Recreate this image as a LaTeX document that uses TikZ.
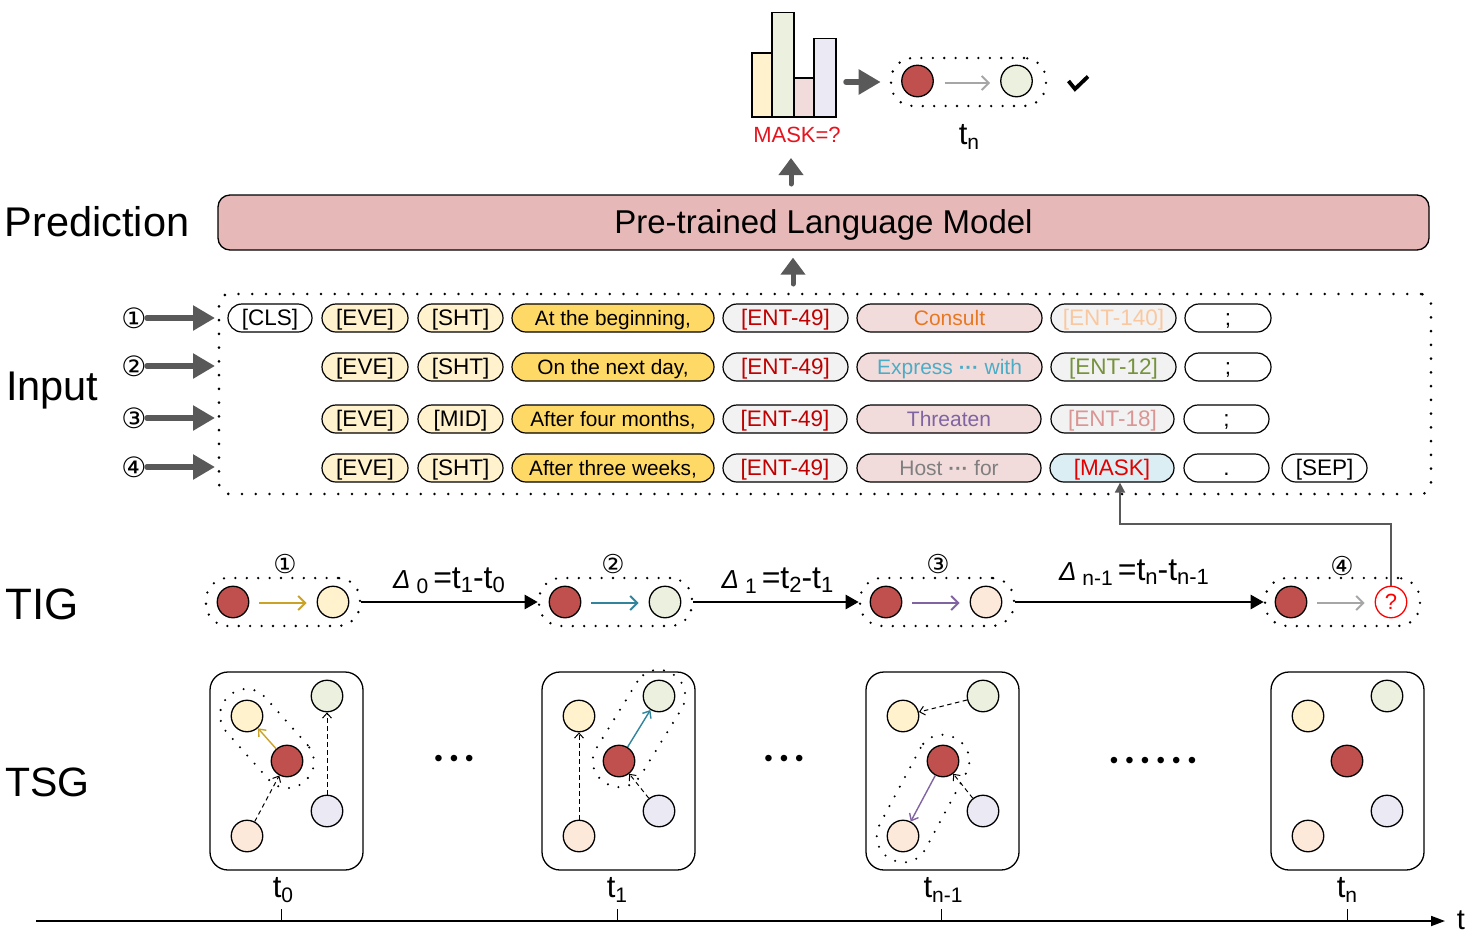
\documentclass[tikz,border=0pt]{standalone}
\usepackage{fontspec}
\setmainfont{Liberation Sans}
\newfontfamily\circfont{DejaVu Sans}
\usetikzlibrary{arrows.meta,calc}
\definecolor{cred}{HTML}{C0504D}
\definecolor{cyel}{HTML}{FFF2CC}
\definecolor{cgrn}{HTML}{EBF1DE}
\definecolor{cpea}{HTML}{FCE9DA}
\definecolor{clav}{HTML}{EBE9F3}
\definecolor{cpink}{HTML}{F2DCDB}
\definecolor{cmodel}{HTML}{E6B8B7}
\definecolor{cgold}{HTML}{FFD966}
\definecolor{cent}{HTML}{F2F2F2}
\definecolor{cblue}{HTML}{DAEEF3}
\definecolor{darrow}{HTML}{595959}
\definecolor{agold}{HTML}{C9A227}
\definecolor{ateal}{HTML}{31849B}
\definecolor{apur}{HTML}{8064A2}
\definecolor{agry}{HTML}{A6A6A6}
\definecolor{erd}{HTML}{C00000}
\definecolor{tcons}{HTML}{E87722}
\definecolor{texpr}{HTML}{4BACC6}
\definecolor{tprf}{HTML}{FAC8A0}
\definecolor{tgrn}{HTML}{76923C}
\definecolor{tsalm}{HTML}{D99694}
\definecolor{tgry}{HTML}{7F7F7F}
\definecolor{tmred}{HTML}{E6141E}
\newcommand\fs[1]{\fontsize{#1}{#1}\selectfont}
\newcommand\tsb[1]{{\fs{31}t}\raisebox{-5pt}{\fs{21}#1}}
\newcommand\dlt[2]{{\fs{26}\itshape Δ}\hspace{6pt}\raisebox{-5pt}{\fs{21}#1}\hspace{5pt}{\fs{32}=}#2}
\newcommand\tss[1]{{\fs{32}t}\raisebox{-4pt}{\fs{22}#1}}
\newcommand\dotsm{\textbf{\fs{20}···}}
% \pill{name}{left}{right}{y}{fill}{text colour}{text}
\newcommand\pill[7]{%
  \pgfmathsetmacro\pw{#3-#2}\pgfmathsetmacro\pc{(#3+#2)/2}%
  \node[pill,fill=#5,text=#6,minimum width=\pw pt] (#1) at (\pc,#4) {#7};}
\tikzset{
  pill/.style={draw,line width=1.2pt,rounded corners=14pt,minimum height=28pt,inner sep=0pt,font=\fs{22.5},text height=19pt,text depth=4pt},
  nd/.style={circle,draw,line width=1.3pt,minimum size=31.5pt,inner sep=0pt},
  rednd/.style={nd,fill=cred},
  yelnd/.style={nd,fill=cyel},
  grnnd/.style={nd,fill=cgrn},
  peand/.style={nd,fill=cpea},
  lavnd/.style={nd,fill=clav},
  dotbig/.style={draw,line width=2.9pt,line cap=round,dash pattern=on 0pt off 13.75pt},
  dotsmall/.style={draw,line width=2.6pt,line cap=round,dash pattern=on 0pt off 11.4pt,rounded corners=22pt},
  dotrot/.style={draw,line width=2.3pt,line cap=round,dash pattern=on 0pt off 11pt,rounded corners=25pt,minimum height=52pt,inner sep=0pt},
  heavy/.style={darrow,line width=5.5pt,line cap=round,-{Triangle[length=22pt,width=24pt]}},
  heavyup/.style={darrow,line width=5pt,line cap=round,-{Triangle[length=17pt,width=24pt]}},
  flow/.style={black,line width=2.6pt,-{Triangle[length=13pt,width=14pt]}},
  relarrow/.style={line width=2pt,-{Straight Barb[length=7pt,width=14pt]}},
  dasharrow/.style={black,line width=1pt,dash pattern=on 4.5pt off 3.5pt,-{Straight Barb[length=5pt,width=9pt]}},
  solidthin/.style={line width=1.4pt,-{Straight Barb[length=6pt,width=10pt]}},
  tsgbox/.style={draw,line width=1.3pt,rounded corners=18pt,minimum width=153pt,minimum height=198pt,inner sep=0pt},
  bar/.style={draw,line width=1.2pt},
  sidelabel/.style={anchor=west,inner sep=0pt,font=\fs{41.5}},
  circnum/.style={inner sep=0pt,font=\circfont\fs{28}},
  tlab/.style={inner sep=0pt},
  fldots/.style={inner sep=0pt,font=\fs{24}},
}
\begin{document}
\begin{tikzpicture}[x=1pt,y=-1pt]
\useasboundingbox (0,0) rectangle (1481,943);
% side labels
\node[sidelabel] (lp) at (4.5,221.5) {Prediction};
\node[sidelabel] (li) at (6,391) {Input};
\node[sidelabel,font=\fs{44}] (lg) at (5,604) {TIG};
\node[sidelabel,font=\fs{41}] (ls) at (5,782) {TSG};
% top bars
\draw[bar,fill=cyel] (752,117) rectangle (772,53);
\draw[bar,fill=cgrn] (772,117) rectangle (794,12.5);
\draw[bar,fill=cpink] (794,117) rectangle (814,78);
\draw[bar,fill=clav] (814,117) rectangle (836,38.5);
\node[inner sep=0pt,text=tmred,font=\fs{22}] (mq) at (797,135) {MASK=?};
\coordinate (barsend) at (846,82);
\node[dotsmall,minimum width=155pt,minimum height=48pt,inner sep=0pt] (toploop) at (968.5,82) {};
\node[rednd] (tr) at (917.5,81) {};
\node[grnnd] (tg) at (1016.5,81) {};
\draw[heavy,shorten >=9pt] (barsend) -- (toploop.west);
\draw[relarrow,agry,shorten >=10pt] (tr) ++(27,2) coordinate (ta) -- (ta -| tg.west);
\draw[black,line width=3.8pt] (1068.5,81) coordinate (ck1) -- (1075,89) -- (1088,76.5);
\node[tlab] (ltn) at (969,137) {\tsb{n}};
% model
\node[draw,line width=1.3pt,fill=cmodel,rounded corners=12pt,minimum width=1211pt,minimum height=55pt,inner sep=0pt,font=\fs{33},text height=26pt,text depth=3.4pt] (plm) at (823.5,222.5) {Pre-trained Language Model};
\draw[heavyup,shorten >=23pt] (791,184) coordinate (up1) -- (up1 |- mq.center);
\draw[heavyup,shorten >=7pt] (793,284) coordinate (up2) -- (up2 |- plm.south);
% input box
\node[dotbig,rounded corners=10pt,minimum width=1212pt,minimum height=200pt,inner sep=0pt] (inbox) at (825,394) {};
% rows
\pill{cls}{228}{312}{318}{white}{black}{[CLS]}
\pill{e1}{322}{408}{318}{cyel}{black}{[EVE]}
\pill{s1}{418}{503}{318}{cyel}{black}{[SHT]}
\pill{y1}{512}{714}{318}{cgold}{black}{\fs{20.8}At the beginning,}
\pill{h1}{723}{848}{318}{cent}{erd}{[ENT-49]}
\pill{r1}{857}{1042}{318}{cpink}{tcons}{\fs{21}Consult}
\pill{t1}{1051}{1176}{318}{cent}{tprf}{[ENT-140]}
\pill{p1}{1185}{1271}{318}{white}{black}{;}
\pill{e2}{322}{408}{367}{cyel}{black}{[EVE]}
\pill{s2}{418}{503}{367}{cyel}{black}{[SHT]}
\pill{y2}{512}{714}{367}{cgold}{black}{\fs{20.8}On the next day,}
\pill{h2}{723}{848}{367}{cent}{erd}{[ENT-49]}
\pill{r2}{857}{1042}{367}{cpink}{texpr}{\fs{21}Express \dotsm{} with}
\pill{t2}{1051}{1176}{367}{cent}{tgrn}{[ENT-12]}
\pill{p2}{1185}{1271}{367}{white}{black}{;}
\pill{e3}{322}{408}{419}{cyel}{black}{[EVE]}
\pill{s3}{418}{503}{419}{cyel}{black}{[MID]}
\pill{y3}{512}{714}{419}{cgold}{black}{\fs{20.8}After four months,}
\pill{h3}{723}{847}{419}{cent}{erd}{[ENT-49]}
\pill{r3}{857}{1041}{419}{cpink}{apur}{\fs{21}Threaten}
\pill{t3}{1051}{1174}{419}{cent}{tsalm}{[ENT-18]}
\pill{p3}{1184}{1269}{419}{white}{black}{;}
\pill{e4}{322}{408}{468}{cyel}{black}{[EVE]}
\pill{s4}{418}{503}{468}{cyel}{black}{[SHT]}
\pill{y4}{512}{714}{468}{cgold}{black}{\fs{20.8}After three weeks,}
\pill{h4}{723}{847}{468}{cent}{erd}{[ENT-49]}
\pill{r4}{857}{1041}{468}{cpink}{tgry}{\fs{21}Host \dotsm{} for}
\pill{mask}{1050}{1174}{468}{cblue}{red!90!black}{[MASK]}
\pill{p4}{1184}{1269}{468}{white}{black}{.}
\pill{sep}{1282}{1367}{468}{white}{black}{[SEP]}
% row markers
\foreach \n/\g/\y in {1/①/318,2/②/366,3/③/418,4/④/467}{
  \node[circnum] (m\n) at (134,\y) {\g};
  \draw[heavy] (147,\y) -- (215,\y);
}
% TIG groups
\node[dotsmall,minimum width=154pt,minimum height=48pt,inner sep=0pt] (g1) at (283,602) {};
\node[dotsmall,minimum width=153pt,minimum height=48pt,inner sep=0pt] (g2) at (615.5,602) {};
\node[dotsmall,minimum width=154pt,minimum height=48pt,inner sep=0pt] (g3) at (937,602) {};
\node[dotsmall,minimum width=155pt,minimum height=48pt,inner sep=0pt] (g4) at (1342.5,602) {};
\node[rednd] (a1) at (233,602) {};
\node[yelnd] (b1) at (333,602) {};
\node[rednd] (a2) at (565,602) {};
\node[grnnd] (b2) at (665,602) {};
\node[rednd] (a3) at (886,602) {};
\node[peand] (b3) at (986,602) {};
\node[rednd] (a4) at (1291,602) {};
\node[nd,draw=red,fill=white,text=red,font=\fs{22}] (q) at (1391,602) {?};
\draw[relarrow,agold] ($(a1.east)+(10,1)$) -- ($(b1.west)+(-10,1)$);
\draw[relarrow,ateal] ($(a2.east)+(10,1)$) -- ($(b2.west)+(-10,1)$);
\draw[relarrow,apur] ($(a3.east)+(10,1)$) -- ($(b3.west)+(-10,1)$);
\draw[relarrow,agry] ($(a4.east)+(10,1)$) -- ($(q.west)+(-10,1)$);
\node[circnum,font=\circfont\fs{26}] (c1) at (285,564) {①};
\node[circnum,font=\circfont\fs{26}] (c2) at (613,564) {②};
\node[circnum,font=\circfont\fs{26}] (c3) at (938,564) {③};
\node[circnum,font=\circfont\fs{26}] (c4) at (1342,566) {④};
\draw[flow] (g1.east) -- (g2.west);
\draw[flow] (g2.east) -- (g3.west);
\draw[flow] (g3.east) -- (g4.west);
\node[tlab] (d1) at (449,580.5) {\dlt{0}{\tss{1}{\fs{32}-}\tss{0}}};
\node[tlab] (d2) at (777.5,580.5) {\dlt{1}{\tss{2}{\fs{32}-}\tss{1}}};
\node[tlab] (d3) at (1134,573) {\dlt{n-1}{\tss{n}{\fs{32}-}\tss{n-1}}};
% mask connector
\coordinate (bend) at (1120,524);
\draw[darrow,line width=1.8pt,-{Triangle[length=10pt,width=10pt]}] (q.north) |- (bend) -- (bend |- mask.south);
% TSG box 1
\node[tsgbox] (bx1) at (286.5,771) {};
\node[dotrot,minimum width=114pt,rotate=-48.4] (l1) at (267,738.5) {};
\node[yelnd] (y1n) at (247,716) {};
\node[grnnd] (g1n) at (327,696) {};
\node[rednd] (r1n) at (287,761) {};
\node[lavnd] (v1n) at (327,811) {};
\node[peand] (p1n) at (247,836) {};
\draw[solidthin,agold] (r1n) -- (y1n);
\draw[dasharrow] (p1n) -- (r1n);
\draw[dasharrow] (v1n) -- (g1n);
% TSG box 2
\node[tsgbox] (bx2) at (618.5,771) {};
\node[dotrot,minimum width=128pt,rotate=58.4] (l2) at (639,728.5) {};
\node[yelnd] (y2n) at (579,716) {};
\node[grnnd] (g2n) at (659,696) {};
\node[rednd] (r2n) at (619,761) {};
\node[lavnd] (v2n) at (659,811) {};
\node[peand] (p2n) at (579,836) {};
\draw[solidthin,ateal] (r2n) -- (g2n);
\draw[dasharrow] (p2n) -- (y2n);
\draw[dasharrow] (v2n) -- (r2n);
% TSG box 3
\node[tsgbox] (bx3) at (942.5,771) {};
\node[dotrot,minimum width=137pt,rotate=61.9] (l3) at (923,798.5) {};
\node[yelnd] (y3n) at (903,716) {};
\node[grnnd] (g3n) at (983,696) {};
\node[rednd] (r3n) at (943,761) {};
\node[lavnd] (v3n) at (983,811) {};
\node[peand] (p3n) at (903,836) {};
\draw[solidthin,apur] (r3n) -- (p3n);
\draw[dasharrow] (g3n) -- (y3n);
\draw[dasharrow] (v3n) -- (r3n);
% TSG box 4
\node[tsgbox] (bx4) at (1347.5,771) {};
\node[yelnd] (y4n) at (1308,716) {};
\node[grnnd] (g4n) at (1387,696) {};
\node[rednd] (r4n) at (1347,761) {};
\node[lavnd] (v4n) at (1387,811) {};
\node[peand] (p4n) at (1308,836) {};
% ellipsis dots
\node[fldots] (e1) at (454,761) {•\hspace{7pt}•\hspace{7pt}•};
\node[fldots] (e2) at (784,761) {•\hspace{7pt}•\hspace{7pt}•};
\node[fldots] (e3) at (1153,763) {•\hspace{7.2pt}•\hspace{7.2pt}•\hspace{7.2pt}•\hspace{7.2pt}•\hspace{7.2pt}•};
% timeline
\coordinate (tstart) at (36,921);
\node[inner sep=0pt,font=\fs{29}] (tend) at (1461,920) {t};
\draw[black,line width=1.8pt,-{Triangle[length=14pt,width=10pt]}] (tstart) -- (1445,921);
\foreach \nm/\x/\lx/\s in {a/281/283/0,b/617/617/1,c/941/943/n-1,d/1347/1347/n}{
  \draw[black,line width=0.8pt] (\x,909) -- (\x,921);
  \node[tlab] (tl\nm) at (\lx,890) {\tsb{\s}};
}
\end{tikzpicture}
\end{document}
